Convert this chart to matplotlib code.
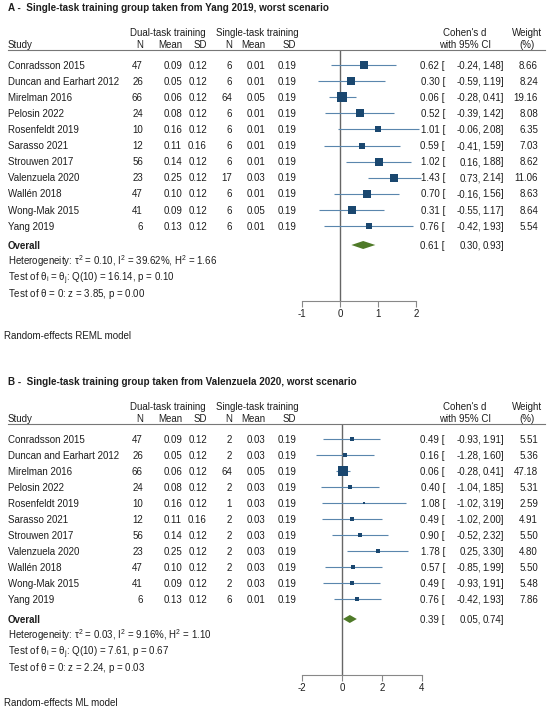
import numpy as np
import matplotlib
matplotlib.use("Agg")
import matplotlib.pyplot as plt
from matplotlib import transforms
from matplotlib.lines import Line2D

plt.rcParams['font.family'] = ['Liberation Sans', 'DejaVu Sans']
plt.rcParams['mathtext.fontset'] = 'custom'
plt.rcParams['mathtext.rm'] = 'Liberation Sans'
plt.rcParams['mathtext.it'] = 'Liberation Sans:italic'
plt.rcParams['axes.unicode_minus'] = False

# --- data ---
studies = ["Conradsson 2015", "Duncan and Earhart 2012", "Mirelman 2016", "Pelosin 2022",
           "Rosenfeldt 2019", "Sarasso 2021", "Strouwen 2017", "Valenzuela 2020",
           "Wallén 2018", "Wong-Mak 2015", "Yang 2019"]

dt_n = [47, 26, 66, 24, 10, 12, 56, 23, 47, 41, 6]
dt_mean = [0.09, 0.05, 0.06, 0.08, 0.16, 0.11, 0.14, 0.25, 0.10, 0.09, 0.13]
dt_sd = [0.12, 0.12, 0.12, 0.12, 0.12, 0.16, 0.12, 0.12, 0.12, 0.12, 0.12]

# panel A
a_st_n = [6, 6, 64, 6, 6, 6, 6, 17, 6, 6, 6]
a_st_mean = [0.01, 0.01, 0.05, 0.01, 0.01, 0.01, 0.01, 0.03, 0.01, 0.05, 0.01]
a_st_sd = [0.19] * 11
a_d = [0.62, 0.30, 0.06, 0.52, 1.01, 0.59, 1.02, 1.43, 0.70, 0.31, 0.76]
a_lo = [-0.24, -0.59, -0.28, -0.39, -0.06, -0.41, 0.16, 0.73, -0.16, -0.55, -0.42]
a_hi = [1.48, 1.19, 0.41, 1.42, 2.08, 1.59, 1.88, 2.14, 1.56, 1.17, 1.93]
a_w = [8.66, 8.24, 19.16, 8.08, 6.35, 7.03, 8.62, 11.06, 8.63, 8.64, 5.54]
a_overall = (0.61, 0.30, 0.93)
a_stats = ["0.10", "39.62%", "1.66", "16.14", "0.10", "3.85", "0.00"]

# panel B
b_st_n = [2, 2, 64, 2, 1, 2, 2, 2, 2, 2, 6]
b_st_mean = [0.03, 0.03, 0.05, 0.03, 0.03, 0.03, 0.03, 0.03, 0.03, 0.03, 0.01]
b_st_sd = [0.19] * 11
b_d = [0.49, 0.16, 0.06, 0.40, 1.08, 0.49, 0.90, 1.78, 0.57, 0.49, 0.76]
b_lo = [-0.93, -1.28, -0.28, -1.04, -1.02, -1.02, -0.52, 0.25, -0.85, -0.93, -0.42]
b_hi = [1.91, 1.60, 0.41, 1.85, 3.19, 2.00, 2.32, 3.30, 1.99, 1.91, 1.93]
b_w = [5.51, 5.36, 47.18, 5.31, 2.59, 4.91, 5.50, 4.80, 5.50, 5.48, 7.86]
b_overall = (0.39, 0.05, 0.74)
b_stats = ["0.03", "9.16%", "1.10", "7.61", "0.67", "2.24", "0.03"]

W, H = 550, 708
fig = plt.figure(figsize=(W / 100, H / 100), dpi=100)

FS = 7
TXT = '#1e1e1e'
SQ = '#1a476f'
CI = '#5a86ad'
DIA = '#4f7a28'
BASE = 3.6  # px from text middle down to baseline


def draw_panel(title, st_n, st_mean, st_sd, d, lo, hi, w, overall, stats, model,
               row0, step, axis_px, xlim, xticks, right_px, ms_k, model_px):
    top_px = row0 - 15
    ax = fig.add_axes([302 / W, 1 - axis_px / H, (right_px - 302) / W, (axis_px - top_px) / H])
    ax.set_xlim(*xlim)
    ax.set_ylim((axis_px - row0) / step, (top_px - row0) / step)
    for s in ['top', 'right', 'left']:
        ax.spines[s].set_visible(False)
    ax.spines['bottom'].set_color('#888888')
    ax.spines['bottom'].set_linewidth(0.8)
    ax.set_yticks([])
    ax.set_xticks(xticks)
    ax.tick_params(axis='x', length=4, width=0.8, color='#888888', labelsize=FS,
                   labelcolor=TXT, pad=2)
    ax.axvline(0, color='#666666', lw=1.0, zorder=1)

    rows = np.arange(len(studies))
    ax.hlines(rows, lo, hi, color=CI, lw=0.8, clip_on=False, zorder=2)
    for r, di, wi in zip(rows, d, w):
        ax.plot(di, r, marker='s', ms=ms_k * np.sqrt(wi), color=SQ, mew=0,
                clip_on=False, zorder=3)

    ov_row = (180 / step)
    est, olo, ohi = overall
    hh = 4.0 / step
    ax.fill([olo, est, ohi, est], [ov_row, ov_row - hh, ov_row, ov_row + hh],
            color=DIA, lw=0, zorder=3)

    tr = transforms.blended_transform_factory(fig.transFigure, ax.transData)

    def t(xpx, row, s, ha='left', size=FS, **kw):
        fig.text(xpx / W, row + BASE / step, s, transform=tr, ha=ha, va='baseline',
                 fontsize=size, color=TXT, **kw)

    # title and headers
    t(8, -58 / step, title, fontweight='bold', size=7.1)
    t(168, -33 / step, "Dual-task training", ha='center')
    t(257, -33 / step, "Single-task training", ha='center')
    t(465, -33 / step, "Cohen's d", ha='center')
    t(527, -33 / step, "Weight", ha='center')
    t(8, -21 / step, "Study")
    for x, s in [(143, "N"), (182, "Mean"), (207, "SD"), (232, "N"), (265, "Mean"), (296, "SD")]:
        t(x, -21 / step, s, ha='right')
    t(465, -21 / step, "with 95% CI", ha='center')
    t(527, -21 / step, "(%)", ha='center')
    fig.add_artist(Line2D([8 / W, 545 / W], [-15 / step, -15 / step], transform=tr,
                          color='#777777', lw=0.8))

    for i, name in enumerate(studies):
        t(8, i, name)
        t(143, i, f"{dt_n[i]}", ha='right')
        t(182, i, f"{dt_mean[i]:.2f}", ha='right')
        t(207, i, f"{dt_sd[i]:.2f}", ha='right')
        t(232, i, f"{st_n[i]}", ha='right')
        t(265, i, f"{st_mean[i]:.2f}", ha='right')
        t(296, i, f"{st_sd[i]:.2f}", ha='right')
        t(445, i, f"{d[i]:.2f} [", ha='right')
        t(481, i, f"{lo[i]:.2f},", ha='right')
        t(504, i, f"{hi[i]:.2f}]", ha='right')
        t(538, i, f"{w[i]:.2f}", ha='right')

    t(8, ov_row, "Overall", fontweight='bold')
    t(445, ov_row, f"{est:.2f} [", ha='right')
    t(481, ov_row, f"{olo:.2f},", ha='right')
    t(504, ov_row, f"{ohi:.2f}]", ha='right')

    tau, i2, h2, q, pq, z, pz = stats
    t(8, ov_row + 16.5 / step,
      r"Heterogeneity: $\mathregular{\tau^2}$ = " + tau + r", $\mathregular{I^2}$ = " + i2
      + r", $\mathregular{H^2}$ = " + h2)
    t(8, ov_row + 32.5 / step,
      r"Test of $\mathregular{\theta_i}$ = $\mathregular{\theta_j}$: Q(10) = " + q + ", p = " + pq)
    t(8, ov_row + 48.5 / step, r"Test of $\mathregular{\theta}$ = 0: z = " + z + ", p = " + pz)
    t(4, (model_px - row0) / step, model)
    return ax


draw_panel("A -  Single-task training group taken from Yang 2019, worst scenario",
           a_st_n, a_st_mean, a_st_sd, a_d, a_lo, a_hi, a_w, a_overall, a_stats,
           "Random-effects REML model",
           row0=65, step=16.1, axis_px=301, xlim=(-1, 2), xticks=[-1, 0, 1, 2],
           right_px=416, ms_k=1.8, model_px=335)

draw_panel("B -  Single-task training group taken from Valenzuela 2020, worst scenario",
           b_st_n, b_st_mean, b_st_sd, b_d, b_lo, b_hi, b_w, b_overall, b_stats,
           "Random-effects ML model",
           row0=439, step=16.0, axis_px=675, xlim=(-2, 4), xticks=[-2, 0, 2, 4],
           right_px=422, ms_k=1.15, model_px=702)

fig.savefig("out.png", dpi=100, facecolor='white')
